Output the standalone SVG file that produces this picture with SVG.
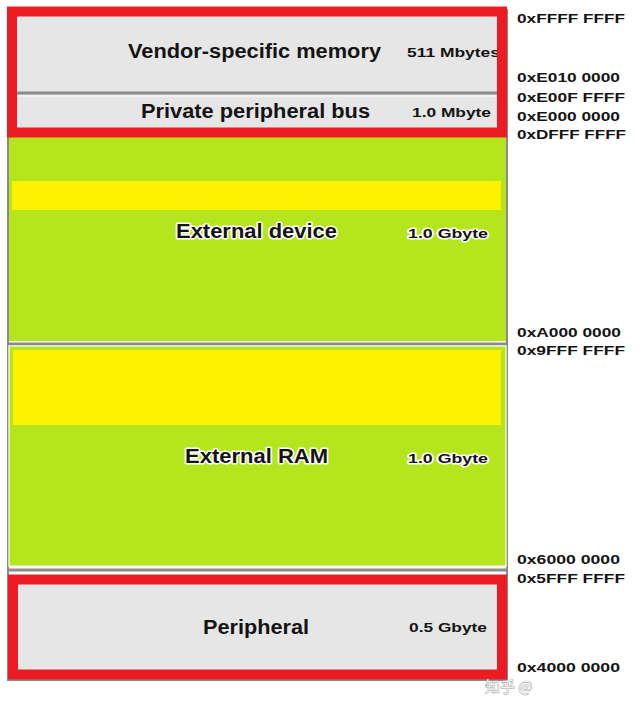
<svg xmlns="http://www.w3.org/2000/svg" width="643" height="705" viewBox="0 0 643 705">
<style>
.lbl{font-family:"Liberation Sans",Arial,sans-serif;font-weight:bold;fill:#141414;}
.big{font-size:20px;}
.sz{font-size:13.5px;}
.addr{font-family:"Liberation Sans",Arial,sans-serif;font-weight:bold;font-size:13.5px;fill:#141414;}
.halo{stroke:#ffffff;stroke-width:3;paint-order:stroke;stroke-linejoin:round;}
.gray{fill:#e6e6e6;}
.green{fill:#b5e61d;}
.yellow{fill:#fff200;}
.red{fill:none;stroke:#ed1c24;stroke-width:10;}
.div{stroke:#8a8a8a;stroke-width:3;}
.edge{fill:none;stroke:#8a8a8a;stroke-width:2;}
</style>
<defs>
<clipPath id="topclip"><rect x="17" y="17" width="480" height="111"/></clipPath>
</defs>
<rect width="643" height="705" fill="#ffffff"/>

<g id="column-outline">
<rect class="edge" x="8" y="10" width="499" height="670"/>
</g>

<g id="vendor-specific-memory">
<rect class="gray" x="12" y="12" width="490" height="80"/>
<text class="lbl big" x="128" y="58" textLength="253" lengthAdjust="spacingAndGlyphs">Vendor-specific memory</text>
<g clip-path="url(#topclip)">
<text class="lbl sz" x="407" y="57" textLength="93" lengthAdjust="spacingAndGlyphs">511 Mbytes</text>
</g>
</g>

<g id="private-peripheral-bus">
<rect class="gray" x="12" y="92" width="490" height="40"/>
<line class="div" x1="12" y1="93" x2="502" y2="93"/>
<line x1="12" y1="96" x2="502" y2="96" stroke="#f4f4f4" stroke-width="1.5"/>
<text class="lbl big" x="141" y="118" textLength="229" lengthAdjust="spacingAndGlyphs">Private peripheral bus</text>
<text class="lbl sz" x="412" y="117" textLength="79" lengthAdjust="spacingAndGlyphs">1.0 Mbyte</text>
</g>

<g id="external-device">
<rect class="green" x="9" y="137" width="497" height="204"/>
<rect class="yellow" x="12" y="181" width="489" height="29"/>
<text class="lbl big halo" x="176" y="238" textLength="161" lengthAdjust="spacingAndGlyphs">External device</text>
<text class="lbl sz halo" x="408" y="238" textLength="80" lengthAdjust="spacingAndGlyphs">1.0 Gbyte</text>
</g>

<g id="external-ram">
<line class="div" x1="8" y1="344" x2="507" y2="344"/>
<rect class="green" x="9" y="346" width="497" height="220"/>
<rect x="9" y="346" width="497" height="220" fill="none" stroke="#eef5d0" stroke-width="1.5"/>
<rect class="yellow" x="13" y="350" width="488" height="75"/>
<text class="lbl big halo" x="185" y="463" textLength="143" lengthAdjust="spacingAndGlyphs">External RAM</text>
<text class="lbl sz halo" x="408" y="463" textLength="80" lengthAdjust="spacingAndGlyphs">1.0 Gbyte</text>
</g>

<g id="peripheral">
<line class="div" x1="8" y1="570" x2="507" y2="570"/>
<rect class="gray" x="12" y="578" width="490" height="98"/>
<text class="lbl big" x="203" y="634" textLength="106" lengthAdjust="spacingAndGlyphs">Peripheral</text>
<text class="lbl sz" x="409" y="632" textLength="78" lengthAdjust="spacingAndGlyphs">0.5 Gbyte</text>
</g>

<g id="highlight-boxes">
<rect class="red" x="12" y="11.5" width="490" height="121"/>
<rect class="red" x="13" y="579.5" width="489" height="95"/>
</g>

<g id="addresses">
<text class="addr" x="517" y="23" textLength="108" lengthAdjust="spacingAndGlyphs">0xFFFF FFFF</text>
<text class="addr" x="517" y="82" textLength="103" lengthAdjust="spacingAndGlyphs">0xE010 0000</text>
<text class="addr" x="517" y="102" textLength="108" lengthAdjust="spacingAndGlyphs">0xE00F FFFF</text>
<text class="addr" x="517" y="121" textLength="103" lengthAdjust="spacingAndGlyphs">0xE000 0000</text>
<text class="addr" x="517" y="139" textLength="109" lengthAdjust="spacingAndGlyphs">0xDFFF FFFF</text>
<text class="addr" x="517" y="337" textLength="104" lengthAdjust="spacingAndGlyphs">0xA000 0000</text>
<text class="addr" x="517" y="355" textLength="108" lengthAdjust="spacingAndGlyphs">0x9FFF FFFF</text>
<text class="addr" x="517" y="564" textLength="103" lengthAdjust="spacingAndGlyphs">0x6000 0000</text>
<text class="addr" x="517" y="583" textLength="108" lengthAdjust="spacingAndGlyphs">0x5FFF FFFF</text>
<text class="addr" x="517" y="672" textLength="103" lengthAdjust="spacingAndGlyphs">0x4000 0000</text>
</g>

<g id="watermark">
<text x="485" y="692" font-family="'Noto Sans CJK SC',sans-serif" font-size="15" fill="#f2f2f2" stroke="#9a9a9a" stroke-width="0.8" paint-order="stroke">知乎 @</text>
</g>
</svg>
